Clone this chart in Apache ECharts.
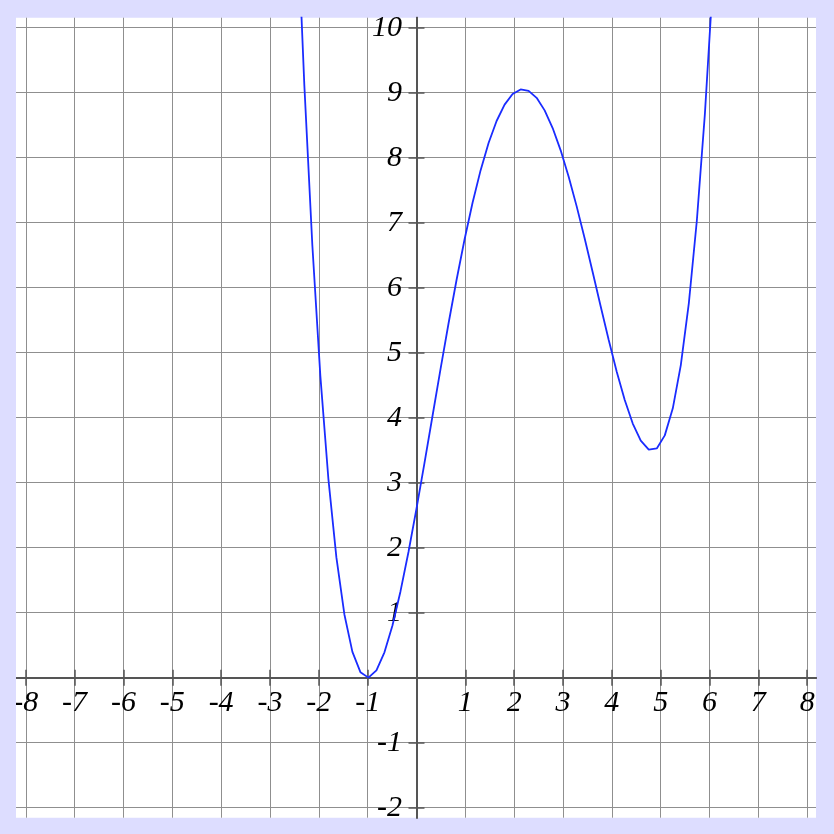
<!DOCTYPE html>
<html><head><meta charset="utf-8">
<script src="https://cdn.jsdelivr.net/npm/echarts@6/dist/echarts.min.js"></script>
<style>html,body{margin:0;padding:0;background:#ddddff;}#c{width:834px;height:834px;}</style>
</head><body><div id="c"></div>
<script>
const xValues = [-2.624,-2.460,-2.296,-2.132,-1.968,-1.804,-1.640,-1.476,-1.312,-1.148,-0.984,-0.820,-0.656,-0.492,-0.328,-0.164,0.000,0.164,0.328,0.492,0.656,0.820,0.984,1.148,1.312,1.476,1.640,1.804,1.968,2.132,2.296,2.460,2.624,2.788,2.952,3.116,3.280,3.444,3.608,3.772,3.936,4.100,4.264,4.428,4.592,4.756,4.920,5.084,5.248,5.412,5.576,5.740,5.904,6.068,6.232];
const yValues = [15.59,12.08,9.11,6.65,4.64,3.06,1.85,0.973,0.398,0.085,0.001,0.113,0.390,0.804,1.327,1.934,2.600,3.304,4.026,4.746,5.449,6.119,6.742,7.308,7.805,8.227,8.565,8.817,8.979,9.050,9.029,8.921,8.728,8.456,8.113,7.708,7.251,6.756,6.238,5.711,5.195,4.708,4.272,3.910,3.648,3.510,3.527,3.728,4.144,4.809,5.759,7.030,8.662,10.694,13.17];
const xTickValues = [-8,-7,-6,-5,-4,-3,-2,-1,0,1,2,3,4,5,6,7,8];
const xLabelValues = [-8,-7,-6,-5,-4,-3,-2,-1,1,2,3,4,5,6,7,8];
const yTickValues = [-2,-1,0,1,2,3,4,5,6,7,8,9,10];
const yLabelValues = [-2,-1,1,2,3,4,5,6,7,8,9,10];

const points = xValues.map((x, i) => [x, yValues[i]]);
const labelStyle = {fontFamily: 'Liberation Serif', fontStyle: 'italic', fontSize: 30, color: '#000'};
const gridLine = {show: true, lineStyle: {color: '#8f8f8f', width: 1}};

function xAxisDef(idx) {
  const primary = idx === 0;
  return {
    type: 'value', min: -8.2, max: 8.18, position: primary ? 'bottom' : 'top',
    axisLine: {show: true, onZero: true, onZeroAxisIndex: idx, lineStyle: {color: '#555', width: 2}},
    axisTick: {show: true, length: 8, inside: false, customValues: xTickValues, lineStyle: {color: '#555', width: 1.5}},
    axisLabel: primary ? Object.assign({show: true, margin: -115, verticalAlign: 'middle', customValues: xLabelValues}, labelStyle) : {show: false},
    splitLine: primary ? gridLine : {show: false}
  };
}
function yAxisDef(idx) {
  const primary = idx === 0;
  return {
    type: 'value', min: -2.154, max: 10.154, position: primary ? 'left' : 'right',
    axisLine: {show: true, onZero: true, onZeroAxisIndex: idx, lineStyle: {color: '#555', width: 2}},
    axisTick: {show: true, length: 8, inside: false, customValues: yTickValues, lineStyle: {color: '#555', width: 1.5}},
    axisLabel: primary ? Object.assign({show: true, margin: -386, align: 'right', customValues: yLabelValues}, labelStyle) : {show: false},
    splitLine: primary ? gridLine : {show: false}
  };
}

const chart = echarts.init(document.getElementById('c'), null, {renderer: 'canvas'});
chart.setOption({
  animation: false,
  backgroundColor: '#ddddff',
  grid: {left: 16, top: 17.7, width: 800, height: 800, show: true, backgroundColor: '#ffffff', borderWidth: 0, containLabel: false, outerBoundsMode: 'none'},
  xAxis: [xAxisDef(0), xAxisDef(1)],
  yAxis: [yAxisDef(0), yAxisDef(1)],
  graphic: [{type: 'rect', left: 0, top: 0, z: 100, silent: true, shape: {width: 16, height: 834}, style: {fill: '#ddddff'}}],
  series: [{
    type: 'line', xAxisIndex: 0, yAxisIndex: 0, data: points,
    showSymbol: false, symbol: 'none', smooth: false, clip: true,
    lineStyle: {color: '#1a2cff', width: 1.8}
  }]
});
</script></body></html>
